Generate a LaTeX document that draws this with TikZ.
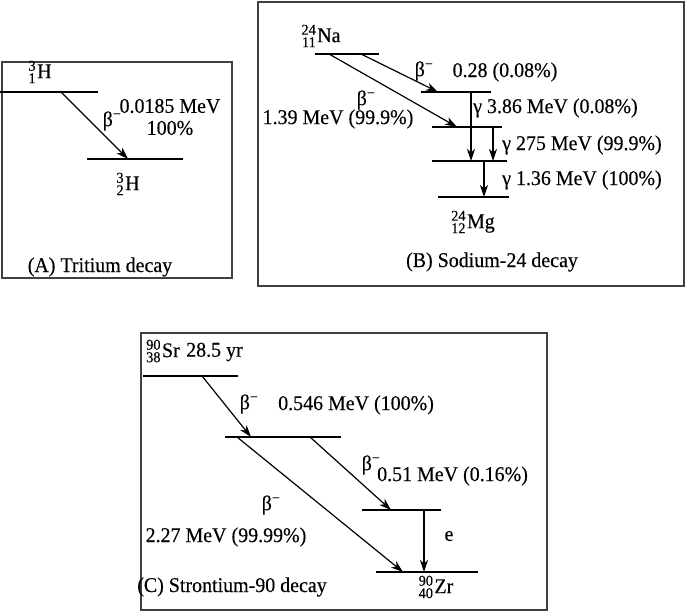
\documentclass[tikz,border=0pt]{standalone}
\usepackage{fontspec}
\setmainfont{Liberation Serif}[FakeStretch=0.95,FakeBold=0.3]
\usetikzlibrary{arrows.meta}
\newcommand{\iso}[3]{{\fontsize{15}{15}\selectfont\setbox0\hbox{#1}\setbox2\hbox{#2}%
  \dimen0=\ifdim\wd0>\wd2 \wd0\else\wd2\fi
  \makebox[\dimen0][r]{\raisebox{7.5pt}{#1}}\llap{\raisebox{-5pt}{#2}}}\kern1.5pt #3}
\newcommand{\bm}{β\textsuperscript{−}}
\begin{document}
\begin{tikzpicture}[x=1pt,y=-1pt,
  txt/.style={inner sep=0pt,font=\fontsize{21}{24}\selectfont},
  lvl/.style={line width=1.5pt},
  tr/.style={line width=1.2pt,-{Stealth[length=12pt,width=8pt,inset=3.5pt]}},
  panel/.style={line width=1.5pt,draw=black!75}]
\useasboundingbox (0,0) rectangle (685,612);
% ---------- Panel A ----------
\draw[panel] (2,62) rectangle (232,278);
\coordinate (A1l) at (0,92); \coordinate (A1r) at (98,92);
\coordinate (A2l) at (87,159); \coordinate (A2r) at (183,159);
\draw[lvl] (A1l) -- (A1r);
\draw[lvl] (A2l) -- (A2r);
\coordinate (Aa) at (61,92); \coordinate (Ab) at (128,159);
\draw[tr] (Aa) -- (Ab);
\node[txt] (AH1) at (40,72) {\iso{3}{1}{H}};
\node[txt] (AH2) at (128,184) {\iso{3}{2}{H}};
\node[txt] (Abeta) at (112,121) {\bm};
\node[txt] (Aen) at (170,106) {0.0185 MeV};
\node[txt] (Apc) at (170,128) {100\%};
\node[txt] (Acap) at (100,267) {(A) Tritium decay};
% ---------- Panel B ----------
\draw[panel] (258,2) rectangle (684,286);
\coordinate (B1l) at (315,54); \coordinate (B1r) at (379,54);
\coordinate (B2l) at (421,92); \coordinate (B2r) at (491,92);
\coordinate (B3l) at (432,127); \coordinate (B3r) at (502,127);
\coordinate (B4l) at (432,161); \coordinate (B4r) at (507,161);
\coordinate (B5l) at (438,197); \coordinate (B5r) at (509,197);
\foreach \l in {1,...,5} \draw[lvl] (B\l l) -- (B\l r);
\coordinate (Ba1) at (361,54); \coordinate (Ba2) at (438,92);
\coordinate (Bb1) at (329,54); \coordinate (Bb2) at (457,127);
\coordinate (Bc1) at (471,92); \coordinate (Bc2) at (471,161);
\coordinate (Bd1) at (493,127); \coordinate (Bd2) at (493,161);
\coordinate (Be1) at (484,161); \coordinate (Be2) at (484,197);
\draw[tr] (Ba1) -- (Ba2);
\draw[tr] (Bb1) -- (Bb2);
\draw[tr] (Bc1) -- (Bc2);
\draw[tr] (Bd1) -- (Bd2);
\draw[tr] (Be1) -- (Be2);
\node[txt] (BNa) at (321,36) {\iso{24}{11}{Na}};
\node[txt] (Bbeta1) at (424,71) {\bm};
\node[txt] (Ben1) at (505,72) {0.28 (0.08\%)};
\node[txt] (Bbeta2) at (366,100) {\bm};
\node[txt] (Ben2) at (338,119) {1.39 MeV (99.9\%)};
\node[txt,anchor=west] (Bg1) at (473,108) {γ 3.86 MeV (0.08\%)};
\node[txt,anchor=west] (Bg2) at (502,145) {γ 275 MeV (99.9\%)};
\node[txt,anchor=west] (Bg3) at (502,180) {γ 1.36 MeV (100\%)};
\node[txt] (BMg) at (473,222) {\iso{24}{12}{Mg}};
\node[txt] (Bcap) at (492,262) {(B) Sodium-24 decay};
% ---------- Panel C ----------
\draw[panel] (141,333) rectangle (547,610);
\coordinate (C1l) at (143,376); \coordinate (C1r) at (238,376);
\coordinate (C2l) at (225,437); \coordinate (C2r) at (341,437);
\coordinate (C3l) at (362,510); \coordinate (C3r) at (441,510);
\coordinate (C4l) at (376,572); \coordinate (C4r) at (478,572);
\foreach \l in {1,...,4} \draw[lvl] (C\l l) -- (C\l r);
\coordinate (Ca1) at (202,376); \coordinate (Ca2) at (251,437);
\coordinate (Cb1) at (237,437); \coordinate (Cb2) at (403,572);
\coordinate (Cc1) at (310,437); \coordinate (Cc2) at (391,510);
\coordinate (Cd1) at (424,510); \coordinate (Cd2) at (424,572);
\draw[tr] (Ca1) -- (Ca2);
\draw[tr] (Cb1) -- (Cb2);
\draw[tr] (Cc1) -- (Cc2);
\draw[tr] (Cd1) -- (Cd2);
\node[txt] (CSr) at (163,351) {\iso{90}{38}{Sr}};
\node[txt,anchor=west] (Chl) at (186,352) {28.5 yr};
\node[txt] (Cbeta1) at (249,404) {\bm};
\node[txt,anchor=west] (Cen1) at (278,405) {0.546 MeV (100\%)};
\node[txt] (Cbeta2) at (371,465) {\bm};
\node[txt,anchor=west] (Cen2) at (377,476) {0.51 MeV (0.16\%)};
\node[txt] (Cbeta3) at (271,505) {\bm};
\node[txt] (Cen3) at (226,537) {2.27 MeV (99.99\%)};
\node[txt] (Ce) at (449,536) {e};
\node[txt] (CZr) at (436,587) {\iso{90}{40}{Zr}};
\node[txt] (Ccap) at (232,587) {(C) Strontium-90 decay};
\end{tikzpicture}
\end{document}
